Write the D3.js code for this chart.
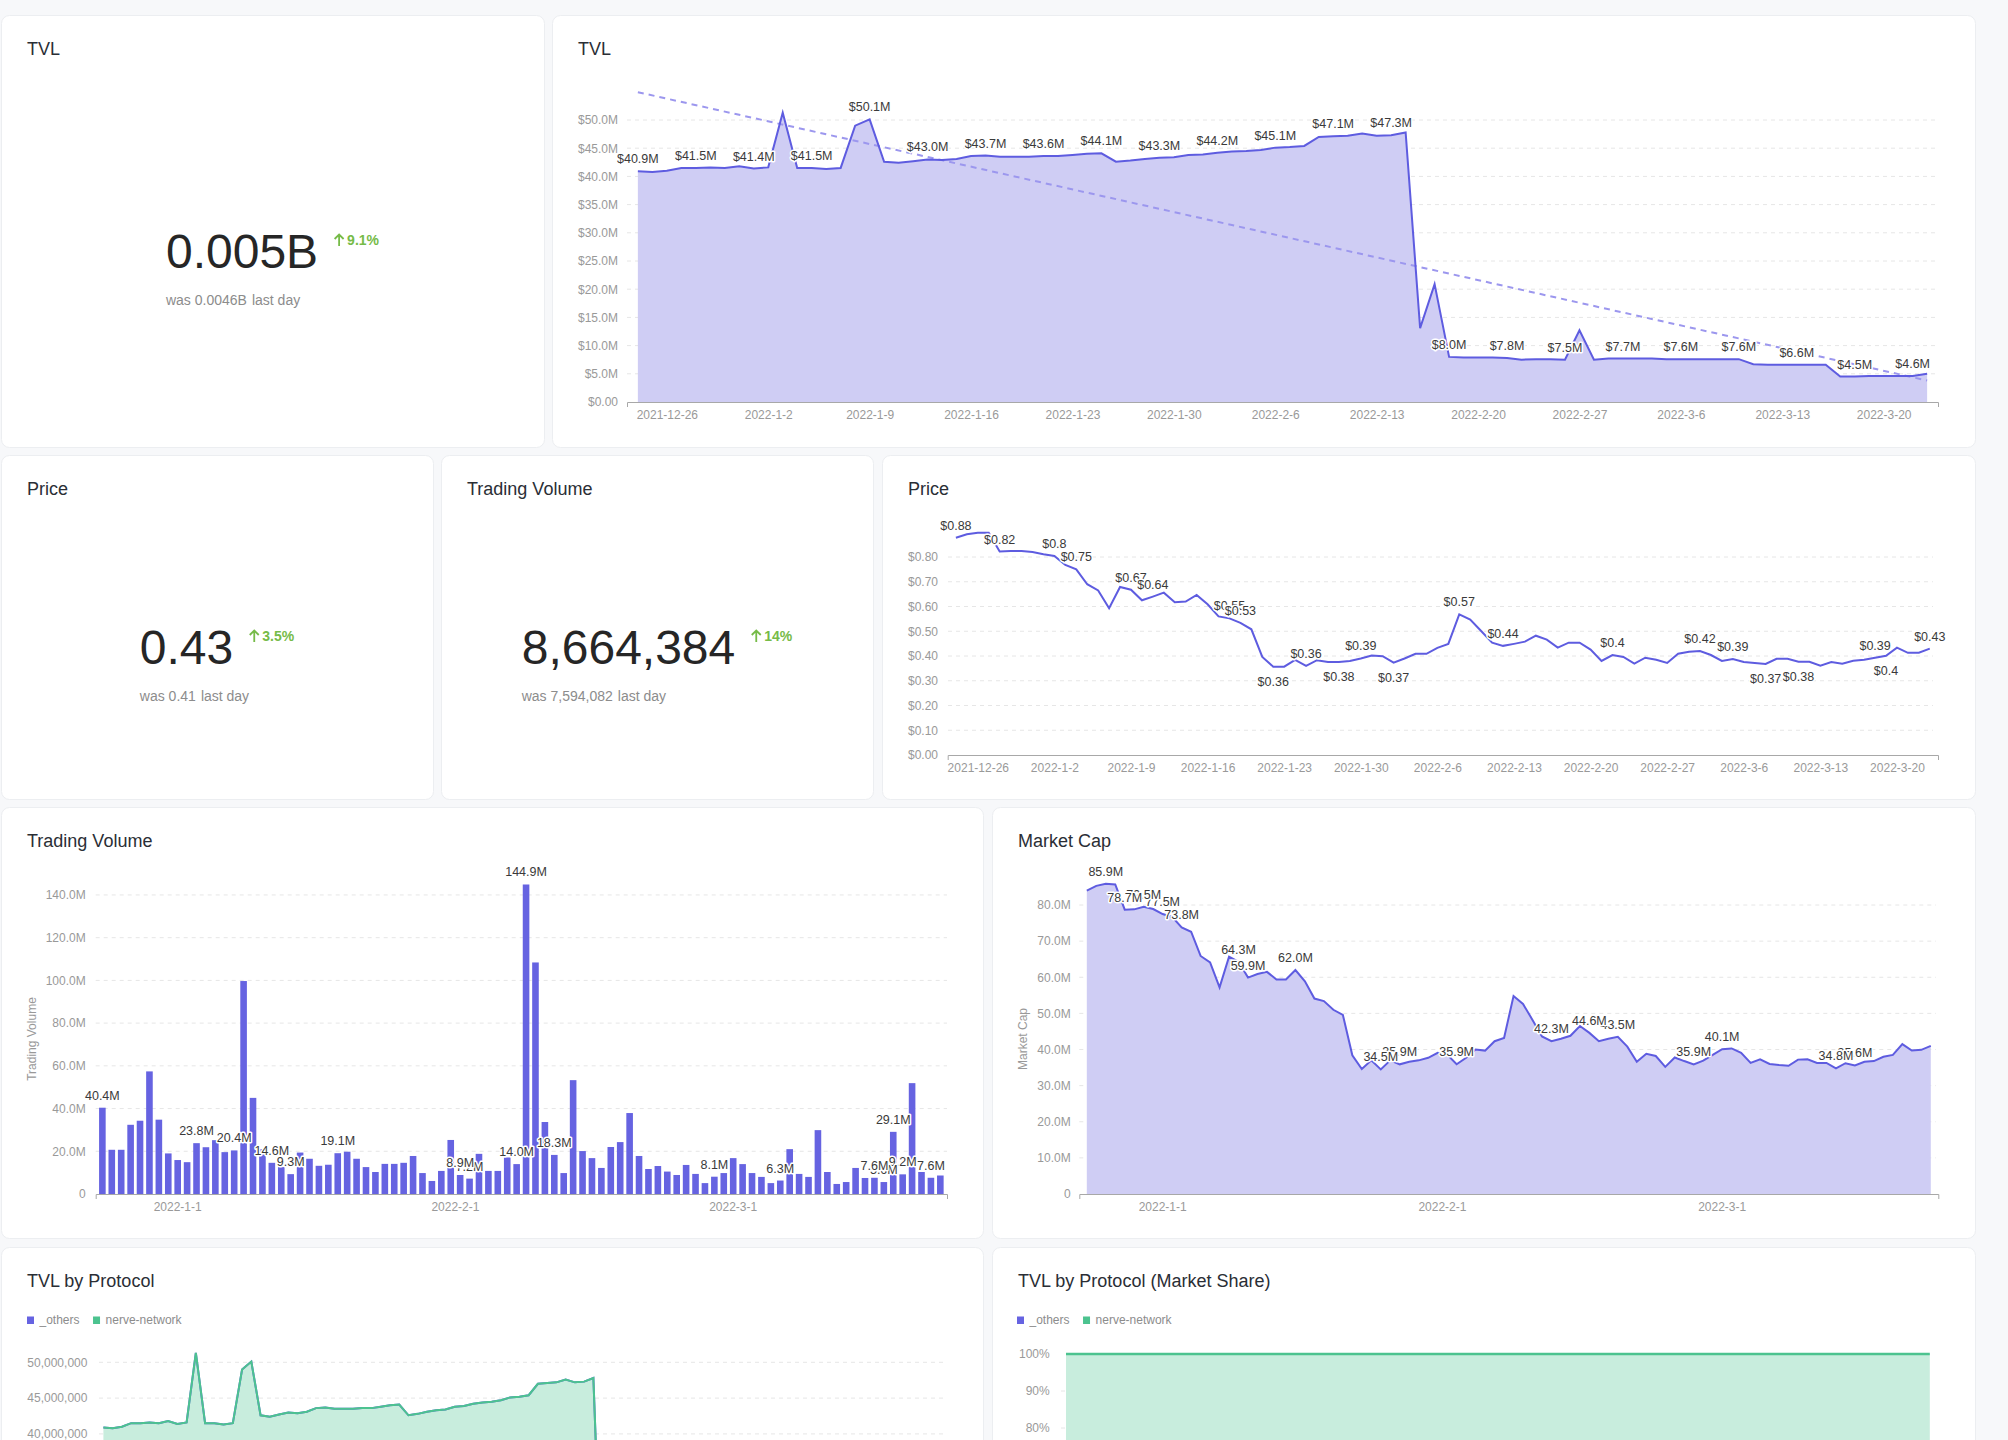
<!DOCTYPE html>
<html>
<head>
<meta charset="utf-8">
<title>TVL dashboard</title>
<script src="https://cdn.jsdelivr.net/npm/d3@7"></script>
<style>
  body { margin: 0; background: #f7f8fa; overflow: hidden; }
  svg { display: block; font-family: "Liberation Sans", Arial, sans-serif; }
  .title { font-size: 18px; fill: #2a2e35; }
  .tick text { font-size: 12px; fill: #999; }
  .lbl { font-size: 12.5px; fill: #3a3a3a; stroke: #fff; stroke-width: 3px; paint-order: stroke; stroke-linejoin: round; }
</style>
</head>
<body>
<svg id="page" width="2008" height="1440"></svg>
<script>
'use strict'

// ---- data (daily, 2021-12-24 .. 2022-3-23) ----
const firstDay = '2021-12-24';

// TVL in $M
const tvl = [40.9, 40.8, 41.0, 41.5, 41.5, 41.6, 41.5, 41.8, 41.4, 41.6,
  51.3, 41.5, 41.5, 41.3, 41.5, 49.0, 50.1, 42.6, 42.4, 42.7,
  43.0, 42.9, 43.1, 43.6, 43.7, 43.5, 43.5, 43.5, 43.6, 43.6,
  43.8, 44.0, 44.1, 42.6, 42.8, 43.1, 43.3, 43.4, 43.8, 43.9,
  44.2, 44.4, 44.5, 44.7, 45.1, 45.2, 45.4, 47.0, 47.1, 47.2,
  47.6, 47.2, 47.3, 47.8, 13.1, 20.9, 8.0, 7.9, 7.9, 7.9,
  7.8, 7.5, 7.6, 7.6, 7.5, 12.7, 7.5, 7.7, 7.7, 7.7,
  7.7, 7.6, 7.6, 7.6, 7.6, 7.6, 7.6, 6.7, 6.6, 6.6,
  6.6, 6.6, 6.6, 4.5, 4.5, 4.6, 4.6, 4.6, 4.6, 5.0];

// price in $
const price = [0.878, 0.892, 0.898, 0.898, 0.822, 0.824, 0.824, 0.820, 0.811, 0.804,
  0.768, 0.750, 0.690, 0.665, 0.593, 0.679, 0.668, 0.625, 0.640, 0.656,
  0.617, 0.620, 0.647, 0.609, 0.560, 0.552, 0.534, 0.508, 0.396, 0.357,
  0.357, 0.384, 0.360, 0.383, 0.376, 0.376, 0.380, 0.390, 0.402, 0.399,
  0.373, 0.390, 0.409, 0.409, 0.433, 0.449, 0.568, 0.547, 0.501, 0.454,
  0.441, 0.449, 0.458, 0.482, 0.466, 0.434, 0.454, 0.454, 0.426, 0.380,
  0.404, 0.396, 0.369, 0.393, 0.385, 0.372, 0.409, 0.417, 0.420, 0.404,
  0.380, 0.388, 0.376, 0.372, 0.368, 0.389, 0.389, 0.377, 0.377, 0.361,
  0.376, 0.369, 0.381, 0.385, 0.393, 0.401, 0.434, 0.413, 0.413, 0.430];

// trading volume in M
const volume = [40.4, 20.7, 20.7, 32.4, 34.3, 57.4, 34.8, 19.0, 15.9, 14.9,
  23.8, 21.9, 25.2, 19.6, 20.4, 99.7, 45.0, 21.0, 14.6, 12.6,
  9.3, 19.4, 16.5, 13.2, 13.7, 19.1, 19.8, 16.5, 12.6, 10.3,
  14.1, 14.1, 14.6, 17.8, 9.8, 6.1, 10.8, 25.3, 8.9, 7.2,
  18.8, 10.8, 10.8, 17.1, 14.0, 144.9, 108.4, 33.7, 18.3, 9.8,
  53.3, 20.1, 16.8, 12.2, 22.0, 24.3, 37.9, 17.8, 11.7, 13.1,
  10.5, 8.9, 13.6, 9.4, 5.1, 8.1, 9.8, 16.8, 14.0, 9.8,
  8.0, 5.1, 6.3, 21.0, 9.4, 8.0, 29.9, 10.3, 4.7, 5.6,
  12.2, 7.5, 7.6, 5.6, 29.1, 9.2, 51.9, 10.3, 7.6, 8.66];

// market cap in M
const marketCap = [84.0, 85.3, 85.9, 85.7, 78.7, 78.8, 79.5, 78.9, 77.5, 76.7,
  73.8, 72.6, 65.9, 64.1, 57.2, 65.7, 64.3, 59.9, 60.9, 61.5,
  59.4, 59.4, 62.0, 58.9, 54.1, 53.4, 51.0, 49.6, 38.4, 34.6,
  37.0, 34.5, 37.0, 35.9, 36.6, 37.0, 37.7, 39.1, 38.6, 35.9,
  37.7, 40.0, 39.7, 42.3, 43.2, 54.8, 52.6, 48.2, 43.6, 42.3,
  43.0, 43.8, 46.5, 44.6, 42.3, 43.0, 43.5, 40.8, 36.6, 38.8,
  38.2, 35.2, 37.8, 36.8, 35.9, 36.9, 38.5, 40.1, 40.3, 39.1,
  36.3, 37.3, 36.0, 35.7, 35.5, 37.2, 37.3, 36.3, 36.3, 34.8,
  36.2, 35.6, 36.6, 36.8, 38.0, 38.5, 41.5, 39.7, 39.9, 41.0];

// TVL by protocol in $M (nerve-network carries all of it)
const protocols = ['_others', 'nerve-network'];
const othersTvl = [0,0,0,0,0,0,0,0,0,0, 0,0,0,0,0,0,0,0,0,0, 0,0,0,0,0,0,0,0,0,0,
  0,0,0,0,0,0,0,0,0,0, 0,0,0,0,0,0,0,0,0,0, 0,0,0,0,0,0,0,0,0,0,
  0,0,0,0,0,0,0,0,0,0, 0,0,0,0,0,0,0,0,0,0, 0,0,0,0,0,0,0,0,0,0];
const nerveTvl = tvl;

// ticks
const weekTicks = ['2021-12-26', '2022-1-2', '2022-1-9', '2022-1-16', '2022-1-23', '2022-1-30', '2022-2-6',
  '2022-2-13', '2022-2-20', '2022-2-27', '2022-3-6', '2022-3-13', '2022-3-20'];
const monthTicks = ['2022-1-1', '2022-2-1', '2022-3-1'];
const tvlYTicks = [0, 5, 10, 15, 20, 25, 30, 35, 40, 45, 50];
const priceYTicks = [0, 0.1, 0.2, 0.3, 0.4, 0.5, 0.6, 0.7, 0.8];
const volYTicks = [0, 20, 40, 60, 80, 100, 120, 140];
const mcYTicks = [0, 10, 20, 30, 40, 50, 60, 70, 80];
const protoYTicks = [0, 5, 10, 15, 20, 25, 30, 35, 40, 45, 50];
const shareYTicks = [0, 0.1, 0.2, 0.3, 0.4, 0.5, 0.6, 0.7, 0.8, 0.9, 1];

// which points carry a value label
const tvlLabelIdx = [0, 4, 8, 12, 16, 20, 24, 28, 32, 36, 40, 44, 48, 52, 56, 60, 64, 68, 72, 76, 80, 84, 88];
const priceLabelIdx = [0, 4, 9, 11, 16, 18, 25, 26, 29, 32, 35, 37, 40, 46, 50, 60, 68, 71, 74, 77, 84, 85, 89];
const priceLabelBelow = [29, 35, 40, 74, 77, 85];
const volLabelIdx = [0, 10, 14, 18, 20, 25, 38, 39, 44, 45, 48, 65, 72, 82, 83, 84, 85, 88];
const mcLabelIdx = [2, 4, 6, 8, 10, 16, 17, 22, 31, 33, 39, 49, 53, 56, 64, 67, 79, 81];

// ---- colours ----
const purple = '#5e5ce0';
const barPurple = '#6663e1';
const purpleFill = '#cfcdf4';
const green = '#4cc38f';
const greenFill = '#c8eddd';
const upGreen = '#76bb48';

const parseDate = d3.timeParse('%Y-%m-%d');
const fmtDate = d3.timeFormat('%Y-%-m-%-d');
const day0 = parseDate(firstDay);
const dates = d3.timeDay.range(day0, d3.timeDay.offset(day0, tvl.length));

const svg = d3.select('#page');
svg.append('rect').attr('width', 2008).attr('height', 1440).attr('fill', '#f7f8fa');

function addCard(x, y, w, h, title) {
  const g = svg.append('g');
  g.append('rect').attr('x', x + 0.5).attr('y', y + 0.5).attr('width', w).attr('height', h)
    .attr('rx', 8).attr('fill', '#fff').attr('stroke', '#eceef1');
  g.append('text').attr('class', 'title').attr('x', x + 26).attr('y', y + 40).text(title);
  return g;
}

function grid(g, y, ticks, x0, x1) {
  g.append('g').selectAll('line').data(ticks.filter(t => t !== 0)).join('line')
    .attr('x1', x0).attr('x2', x1)
    .attr('y1', d => y(d)).attr('y2', d => y(d))
    .attr('stroke', '#e6e6e6').attr('stroke-dasharray', '4,4');
}

function yAxis(g, y, x, ticks, fmt, pad) {
  const a = g.append('g').attr('transform', `translate(${x},0)`)
    .call(d3.axisLeft(y).tickValues(ticks).tickFormat(fmt).tickSize(0).tickPadding(pad));
  a.select('.domain').remove();
  a.attr('font-family', null).attr('font-size', null);
}

function xAxis(g, x, y, ticks) {
  const a = g.append('g').attr('transform', `translate(0,${y})`)
    .call(d3.axisBottom(x).tickValues(ticks).tickFormat(fmtDate)
      .tickSizeInner(0).tickSizeOuter(5).tickPadding(8));
  a.select('.domain').attr('stroke', '#a8a8a8');
  a.attr('font-family', null).attr('font-size', null);
}

// month labels are spread evenly between the first and last one
function spreadTicks(g, x, y, labels) {
  const ends = [parseDate(labels[0]), parseDate(labels[labels.length - 1])];
  const pos = d3.scaleLinear().domain([0, labels.length - 1]).range(ends.map(x));
  g.append('g').selectAll('text').data(labels).join('text')
    .attr('x', (d, i) => pos(i)).attr('y', y + 16.5)
    .attr('text-anchor', 'middle').attr('font-size', 12).attr('fill', '#999')
    .text(d => d);
}

function valueLabels(g, idx, xf, yf, txt, below, reverse) {
  const list = reverse ? idx.slice().reverse() : idx;
  g.append('g').selectAll('text').data(list).join('text')
    .attr('class', 'lbl').attr('text-anchor', 'middle')
    .attr('x', i => xf(i))
    .attr('y', i => (below && below.includes(i)) ? yf(i) + 19 : yf(i) - 8)
    .text(i => txt(i));
}

function yTitle(g, x, y, text) {
  g.append('text').attr('transform', `translate(${x},${y}) rotate(-90)`)
    .attr('text-anchor', 'middle').attr('font-size', 12).attr('fill', '#999').text(text);
}

function stat(g, box, big, pct, was) {
  const cy = box.y + box.h / 2;
  const grp = g.append('g');
  const num = grp.append('text').attr('y', cy + 37).attr('font-size', 48).attr('fill', '#262626').text(big);
  const ax = num.node().getComputedTextLength() + 16;
  grp.append('path')
    .attr('d', `M${ax + 5},${cy + 15}V${cy + 3.5}M${ax + 0.5},${cy + 8}L${ax + 5},${cy + 3.5}L${ax + 9.5},${cy + 8}`)
    .attr('fill', 'none').attr('stroke', upGreen).attr('stroke-width', 1.8);
  const p = grp.append('text').attr('x', ax + 13).attr('y', cy + 14)
    .attr('font-size', 14).attr('font-weight', 'bold').attr('fill', upGreen).text(pct);
  const total = ax + 13 + p.node().getComputedTextLength();
  const w = grp.append('text').attr('y', cy + 74).attr('font-size', 14).attr('fill', '#8c8c8c');
  w.append('tspan').text(was);
  w.append('tspan').attr('dx', 5).text('last day');
  grp.attr('transform', `translate(${box.x + (box.w - total) / 2},0)`);
}

// ---- stat cards ----
const c1 = addCard(1, 15, 543, 432, 'TVL');
stat(c1, {x: 1, y: 15, w: 543, h: 432}, '0.005B', '9.1%', 'was 0.0046B');
const c3 = addCard(1, 455, 432, 344, 'Price');
stat(c3, {x: 1, y: 455, w: 432, h: 344}, '0.43', '3.5%', 'was 0.41');
const c4 = addCard(441, 455, 432, 344, 'Trading Volume');
stat(c4, {x: 441, y: 455, w: 432, h: 344}, '8,664,384', '14%', 'was 7,594,082');

// ---- TVL area chart ----
{
  const g = addCard(552, 15, 1423, 432, 'TVL');
  const x = d3.scaleTime()
    .domain([d3.timeHour.offset(dates[0], -18), d3.timeHour.offset(dates[dates.length - 1], 18)])
    .range([627, 1938]);
  const y = d3.scaleLinear().domain([0, 55]).range([402, 91.8]);
  grid(g, y, tvlYTicks, 627, 1935);
  g.append('path').datum(tvl).attr('fill', purpleFill)
    .attr('d', d3.area().x((d, i) => x(dates[i])).y0(y(0)).y1(d => y(d)));
  // linear trend of the series
  const n = tvl.length;
  const mx = (n - 1) / 2, my = d3.mean(tvl);
  const slope = d3.sum(tvl, (d, i) => (i - mx) * (d - my)) / d3.sum(tvl, (d, i) => (i - mx) * (i - mx));
  const trend = [0, n - 1].map(i => [x(dates[i]), y(my + slope * (i - mx))]);
  g.append('path').attr('d', d3.line()(trend)).attr('fill', 'none')
    .attr('stroke', '#9c97ee').attr('stroke-width', 2).attr('stroke-dasharray', '6,5');
  g.append('path').datum(tvl).attr('fill', 'none').attr('stroke', purple).attr('stroke-width', 2)
    .attr('d', d3.line().x((d, i) => x(dates[i])).y(d => y(d)));
  xAxis(g, x, 402, weekTicks.map(parseDate));
  yAxis(g, y, 627, tvlYTicks, v => v === 0 ? '$0.00' : '$' + v.toFixed(1) + 'M', 9);
  valueLabels(g, tvlLabelIdx, i => x(dates[i]), i => y(tvl[i]), i => '$' + tvl[i].toFixed(1) + 'M');
}

// ---- Price line chart ----
{
  const g = addCard(882, 455, 1093, 344, 'Price');
  const x = d3.scaleTime()
    .domain([d3.timeHour.offset(dates[0], -18), d3.timeHour.offset(dates[dates.length - 1], 18)])
    .range([947.7, 1938]);
  const y = d3.scaleLinear().domain([0, 1]).range([755, 507.5]);
  grid(g, y, priceYTicks, 948, 1933);
  g.append('path').datum(price).attr('fill', 'none').attr('stroke', purple).attr('stroke-width', 2)
    .attr('d', d3.line().x((d, i) => x(dates[i])).y(d => y(d)));
  xAxis(g, x, 755, weekTicks.map(parseDate));
  yAxis(g, y, 948, priceYTicks, v => '$' + v.toFixed(2), 10);
  valueLabels(g, priceLabelIdx, i => x(dates[i]), i => y(price[i]), i => '$' + (+price[i].toFixed(2)), priceLabelBelow);
}

// ---- Trading volume bars ----
{
  const g = addCard(1, 807, 982, 431, 'Trading Volume');
  const x = d3.scaleTime()
    .domain([d3.timeHour.offset(dates[0], -17), d3.timeHour.offset(dates[dates.length - 1], 17)])
    .range([95.7, 947]);
  const y = d3.scaleLinear().domain([0, 150]).range([1194, 873.6]);
  grid(g, y, volYTicks, 95.7, 947);
  const bw = 6.6;
  g.append('g').selectAll('rect').data(volume).join('rect')
    .attr('x', (d, i) => x(dates[i]) - bw / 2).attr('width', bw)
    .attr('y', d => y(d)).attr('height', d => y(0) - y(d))
    .attr('fill', barPurple);
  xAxis(g, x, 1194, []);
  spreadTicks(g, x, 1194, monthTicks);
  yAxis(g, y, 95.7, volYTicks, v => v === 0 ? '0' : v.toFixed(1) + 'M', 10);
  yTitle(g, 36, 1039, 'Trading Volume');
  valueLabels(g, volLabelIdx, i => x(dates[i]), i => y(volume[i]), i => volume[i].toFixed(1) + 'M', null, true);
}

// ---- Market cap area ----
{
  const g = addCard(992, 807, 983, 431, 'Market Cap');
  const x = d3.scaleTime()
    .domain([d3.timeHour.offset(dates[0], -19), d3.timeHour.offset(dates[dates.length - 1], 19)])
    .range([1079.3, 1938.3]);
  const y = d3.scaleLinear().domain([0, 90]).range([1194, 868.9]);
  grid(g, y, mcYTicks, 1079.3, 1936);
  g.append('path').datum(marketCap).attr('fill', purpleFill)
    .attr('d', d3.area().x((d, i) => x(dates[i])).y0(y(0)).y1(d => y(d)));
  g.append('path').datum(marketCap).attr('fill', 'none').attr('stroke', purple).attr('stroke-width', 2)
    .attr('d', d3.line().x((d, i) => x(dates[i])).y(d => y(d)));
  xAxis(g, x, 1194, []);
  spreadTicks(g, x, 1194, monthTicks);
  yAxis(g, y, 1079.3, mcYTicks, v => v === 0 ? '0' : v.toFixed(1) + 'M', 8.6);
  yTitle(g, 1027, 1039, 'Market Cap');
  valueLabels(g, mcLabelIdx, i => x(dates[i]), i => y(marketCap[i]), i => marketCap[i].toFixed(1) + 'M', null, true);
}

function legend(g, x, y) {
  const colours = [barPurple, green];
  let cx = x;
  protocols.forEach((name, k) => {
    g.append('rect').attr('x', cx).attr('y', y - 7.5).attr('width', 7).attr('height', 7.5).attr('fill', colours[k]);
    const t = g.append('text').attr('x', cx + 12.5).attr('y', y).attr('font-size', 12).attr('fill', '#8c8c8c').text(name);
    cx += 12.5 + t.node().getComputedTextLength() + 13.5;
  });
}

// ---- TVL by protocol (stacked) ----
{
  const g = addCard(1, 1247, 982, 250, 'TVL by Protocol');
  legend(g, 27, 1324);
  const x = d3.scaleTime().domain([dates[0], dates[dates.length - 1]]).range([103.4, 926.2]);
  const y = d3.scaleLinear().domain([0, 55]).range([1720.3, 1326.5]);
  grid(g, y, protoYTicks, 99, 943);
  const rows = dates.map((d, i) => ({'_others': othersTvl[i], 'nerve-network': nerveTvl[i]}));
  const stack = d3.stack().keys(['nerve-network', '_others'])(rows);
  const colour = {'_others': [barPurple, purpleFill], 'nerve-network': [green, greenFill]};
  stack.forEach(s => {
    g.append('path').datum(s).attr('fill', colour[s.key][1])
      .attr('d', d3.area().x((d, i) => x(dates[i])).y0(d => y(d[0])).y1(d => y(d[1])));
  });
  stack.slice().reverse().forEach(s => {
    g.append('path').datum(s).attr('fill', 'none').attr('stroke', colour[s.key][0]).attr('stroke-width', 2)
      .attr('d', d3.line().x((d, i) => x(dates[i])).y(d => y(d[1])));
  });
  yAxis(g, y, 99, protoYTicks, v => d3.format(',')(v * 1e6), 11.6);
}

// ---- TVL by protocol (market share) ----
{
  const g = addCard(992, 1247, 983, 250, 'TVL by Protocol (Market Share)');
  legend(g, 1017, 1324);
  const x = d3.scaleTime().domain([dates[0], dates[dates.length - 1]]).range([1066, 1929.8]);
  const y = d3.scaleLinear().domain([0, 1]).range([1724, 1354]);
  grid(g, y, shareYTicks.filter(t => t < 1), 1061, 1933);
  const share = nerveTvl.map((v, i) => v / (v + othersTvl[i]));
  g.append('path').datum(share).attr('fill', greenFill)
    .attr('d', d3.area().x((d, i) => x(dates[i])).y0(y(0)).y1(d => y(d)));
  g.append('path').datum(share).attr('fill', 'none').attr('stroke', green).attr('stroke-width', 2.5)
    .attr('d', d3.line().x((d, i) => x(dates[i])).y(d => y(d)));
  yAxis(g, y, 1061, shareYTicks, v => Math.round(v * 100) + '%', 11.3);
}
</script>
</body>
</html>
